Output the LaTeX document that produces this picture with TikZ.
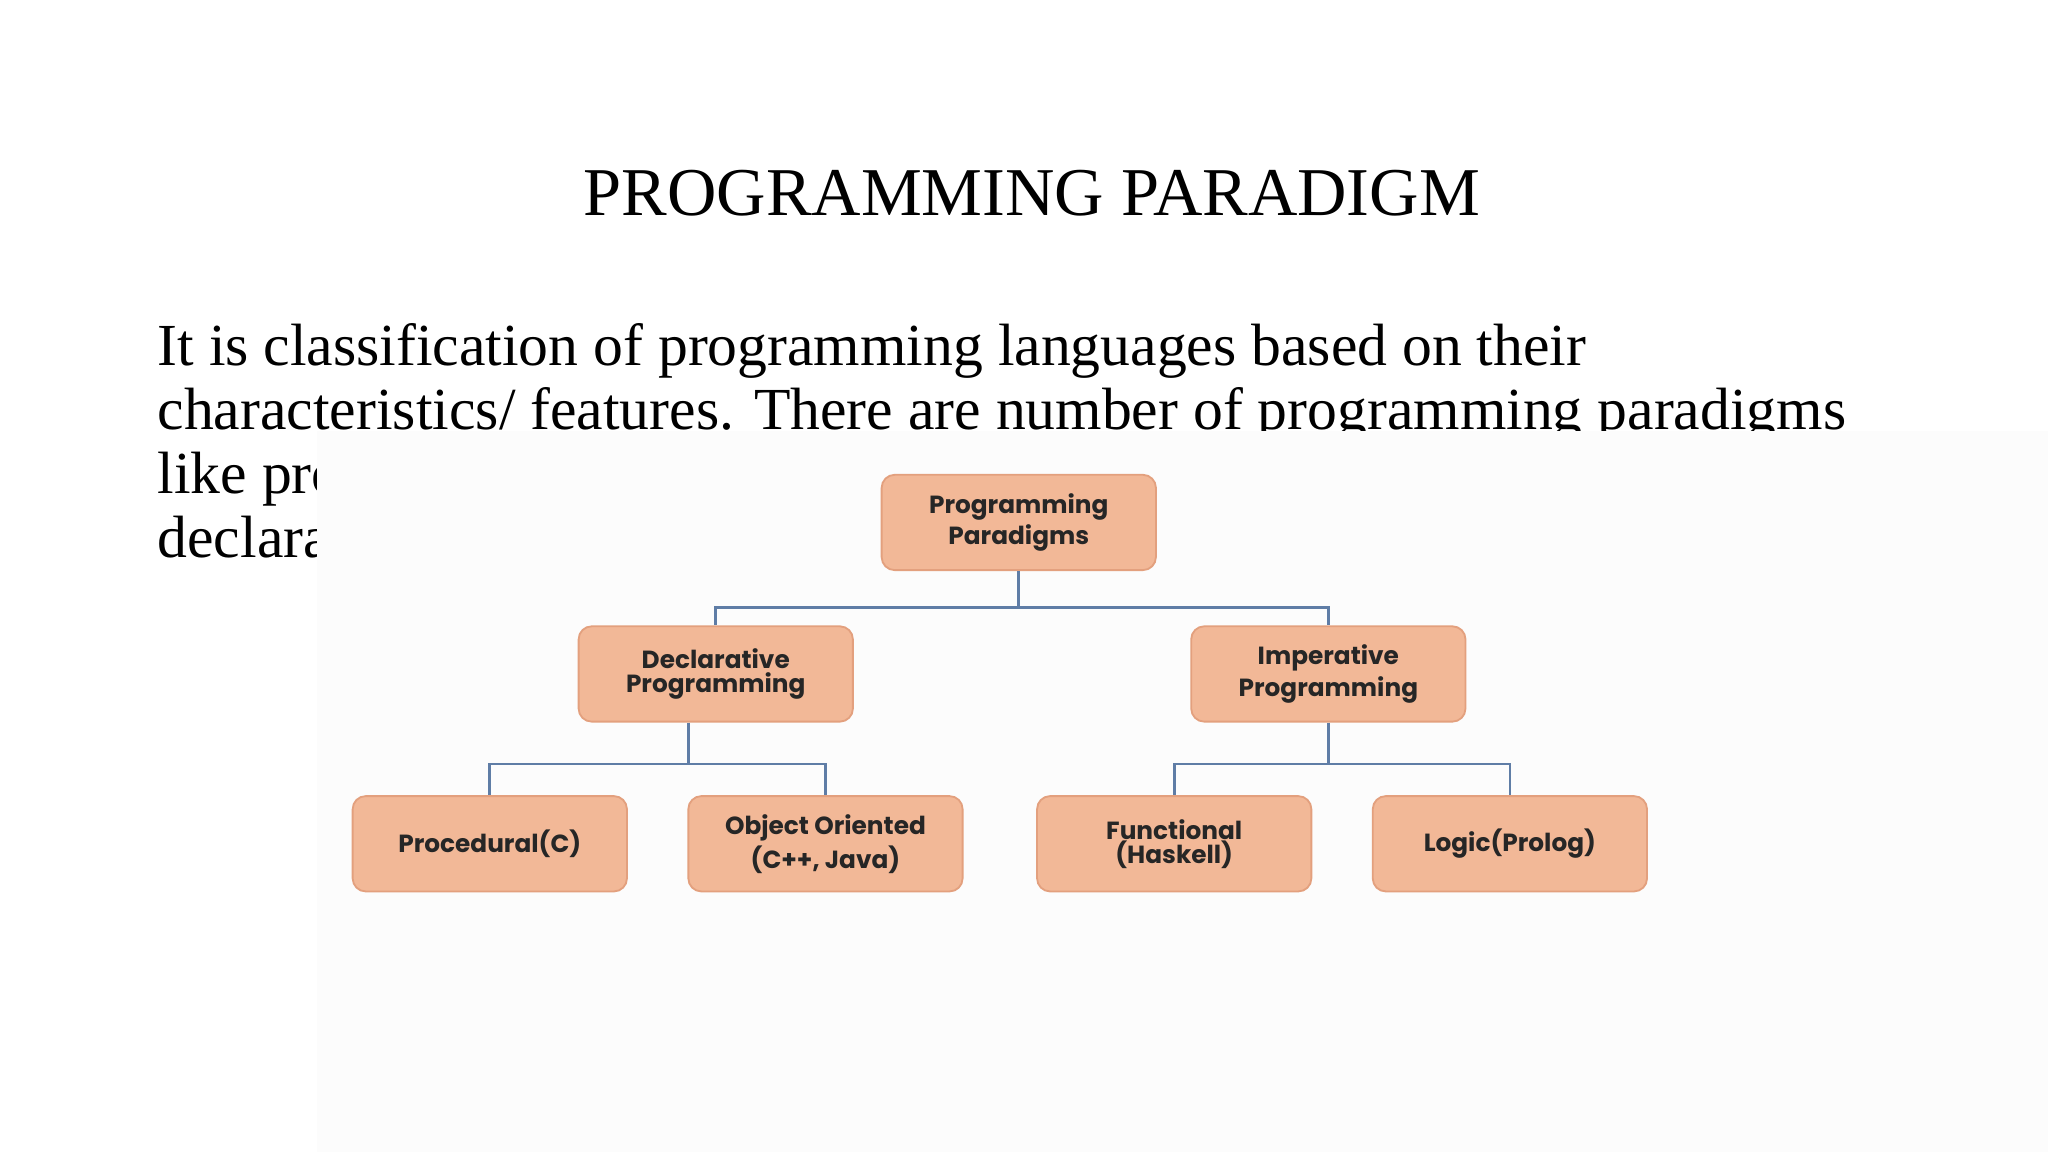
\documentclass[tikz,border=0pt]{standalone}
\usepackage{fontspec}
\setmainfont{Liberation Serif}
\newfontfamily\boxfont{Poppins}
\definecolor{boxfill}{HTML}{F2B897}
\definecolor{boxedge}{HTML}{E3A07E}
\definecolor{linkc}{HTML}{5F7DA6}
\begin{document}
\begin{tikzpicture}[
  pbox/.style={draw=boxedge, fill=boxfill, rounded corners=0.1cm, minimum width=2.1cm, minimum height=0.73cm, inner sep=0pt, align=center, font=\boxfont\bfseries\fontsize{5.4}{5.2}\selectfont, text=black!85},
  link/.style={draw=linkc, line width=0.6pt},
  body/.style={anchor=base west, inner sep=0pt, font=\fontsize{13}{14}\selectfont}]
\useasboundingbox (0,0) rectangle (15.68,8.82);
\fill[white] (0,0) rectangle (15.68,8.82);
\node[anchor=base, inner sep=0pt, font=\fontsize{14.9}{16}\selectfont] (title) at (7.90,7.17) {PROGRAMMING PARADIGM};
\node[body] (l1) at (1.20,6.02) {It is classification of programming languages based on their};
\node[body] (l2) at (1.20,5.53) {characteristics/ features. There are number of programming paradigms};
\node[body] (l3) at (1.20,5.04) {like programming};
\node[body] (l4) at (1.20,4.55) {declarative};
\fill[black!1] (2.43,0) rectangle (15.68,5.52);
\node[pbox] (top) at (7.80,4.82) {Programming\\Paradigms};
\node[pbox] (decl) at (5.48,3.66) {Declarative\\Programming};
\node[pbox] (imp) at (10.17,3.66) {Imperative\\Programming};
\node[pbox] (proc) at (3.75,2.36) {Procedural(C)};
\node[pbox] (oo) at (6.32,2.36) {Object Oriented\\(C++, Java)};
\node[pbox] (fun) at (8.99,2.36) {Functional\\(Haskell)};
\node[pbox] (logic) at (11.56,2.36) {Logic(Prolog)};
\coordinate (j1) at (7.80,4.17);
\coordinate (j2) at (5.27,2.97);
\coordinate (j3) at (10.17,2.97);
\draw[link] (top.south) -- (j1) -| (decl.north);
\draw[link] (j1) -| (imp.north);
\draw[link] (decl.south -| j2) -- (j2) -| (proc.north);
\draw[link] (j2) -| (oo.north);
\draw[link] (imp.south) -- (j3) -| (fun.north);
\draw[link] (j3) -| (logic.north);
\end{tikzpicture}
\end{document}
